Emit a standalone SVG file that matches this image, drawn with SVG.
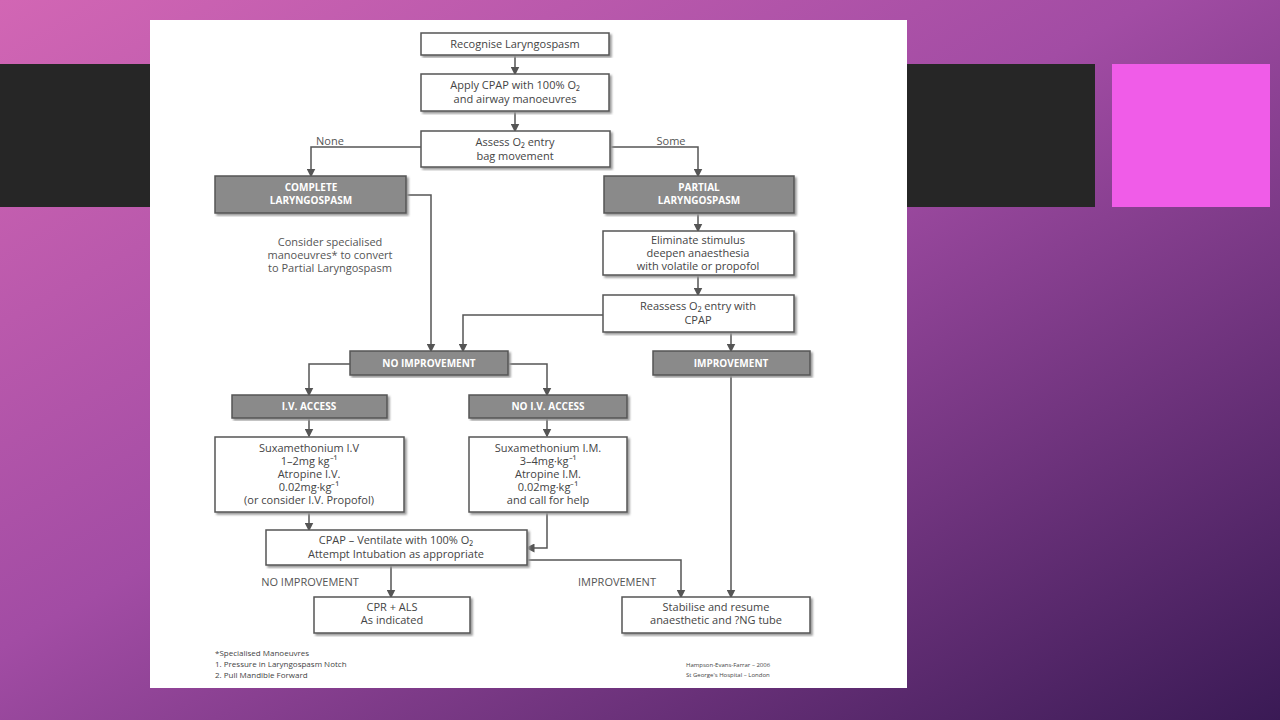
<svg xmlns="http://www.w3.org/2000/svg" width="1280" height="720" viewBox="0 0 1280 720">
<defs>
<linearGradient id="bg" x1="0" y1="0" x2="1" y2="1">
<stop offset="0" stop-color="#d266b4"/><stop offset="0.45" stop-color="#a24ca4"/><stop offset="1" stop-color="#3a1a55"/>
</linearGradient>
<marker id="a" markerWidth="6" markerHeight="6" refX="5" refY="3" orient="auto"><path d="M0,0L6,3L0,6z" fill="#555"/></marker>
<filter id="sh"><feDropShadow dx="2" dy="2" stdDeviation="1" flood-color="#999"/></filter>
</defs>
<style>
text{font-family:"Open Sans","Liberation Sans",sans-serif;font-size:11px;fill:#444;text-anchor:middle}
.b rect{fill:#fff;stroke:#555;stroke-width:1.5;filter:url(#sh)}
.g rect{fill:#8a8a8a;stroke:#555;stroke-width:1.5;filter:url(#sh)}
.g text{fill:#fff;font-weight:bold;font-size:10px}
.l{font-size:11px;fill:#555}
.s{font-size:8px;text-anchor:start}
#c path{fill:none;stroke:#555;stroke-width:1.5;marker-end:url(#a)}
</style>
<rect width="1280" height="720" fill="url(#bg)"/>
<rect x="0" y="64" width="1095" height="143" fill="#262626"/>
<rect x="1112" y="64" width="158" height="143" fill="#f05ce8"/>
<rect x="150" y="20" width="757" height="668" fill="#fff"/>
<g id="c">
<path d="M515,55V74"/>
<path d="M515,111V131"/>
<path d="M421,147H311V176"/>
<path d="M610,147H698V176"/>
<path d="M698,213V231"/>
<path d="M698,275V295"/>
<path d="M603,315H463V351"/>
<path d="M406,195H431V351"/>
<path d="M731,332V351"/>
<path d="M350,364H309V395"/>
<path d="M508,364H547V395"/>
<path d="M309,418V436"/>
<path d="M547,418V436"/>
<path d="M309,512V530"/>
<path d="M547,512V548H527"/>
<path d="M527,560H681V597"/>
<path d="M731,375V597"/>
<path d="M391,565V597"/>
</g>
<g id="n1" class="b"><rect x="421" y="33" width="188" height="22"/><text x="515" y="48">Recognise Laryngospasm</text></g>
<g id="n2" class="b"><rect x="421" y="74" width="188" height="37"/><text x="515" y="89">Apply CPAP with 100% O₂</text><text x="515" y="103">and airway manoeuvres</text></g>
<g id="n3" class="b"><rect x="421" y="131" width="189" height="36"/><text x="515" y="146">Assess O₂ entry</text><text x="515" y="160">bag movement</text></g>
<text class="l" x="330" y="145">None</text><text class="l" x="671" y="145">Some</text>
<g id="n4" class="g"><rect x="215" y="176" width="191" height="37"/><text x="311" y="191">COMPLETE</text><text x="311" y="204">LARYNGOSPASM</text></g>
<g id="n5" class="g"><rect x="604" y="176" width="190" height="37"/><text x="699" y="191">PARTIAL</text><text x="699" y="204">LARYNGOSPASM</text></g>
<text class="l" x="330" y="246">Consider specialised</text><text class="l" x="330" y="259">manoeuvres* to convert</text><text class="l" x="330" y="272">to Partial Laryngospasm</text>
<g id="n6" class="b"><rect x="603" y="231" width="191" height="44"/><text x="698" y="244">Eliminate stimulus</text><text x="698" y="257">deepen anaesthesia</text><text x="698" y="270">with volatile or propofol</text></g>
<g id="n7" class="b"><rect x="603" y="295" width="191" height="37"/><text x="698" y="310">Reassess O₂ entry with</text><text x="698" y="324">CPAP</text></g>
<g id="n8" class="g"><rect x="350" y="351" width="158" height="24"/><text x="429" y="367">NO IMPROVEMENT</text></g>
<g id="n9" class="g"><rect x="653" y="351" width="157" height="24"/><text x="731" y="367">IMPROVEMENT</text></g>
<g id="n10" class="g"><rect x="232" y="395" width="155" height="23"/><text x="309" y="410">I.V. ACCESS</text></g>
<g id="n11" class="g"><rect x="469" y="395" width="158" height="23"/><text x="548" y="410">NO I.V. ACCESS</text></g>
<g id="n12" class="b"><rect x="215" y="437" width="189" height="75"/><text x="309" y="452">Suxamethonium I.V</text><text x="309" y="465">1–2mg kg⁻¹</text><text x="309" y="478">Atropine I.V.</text><text x="309" y="491">0.02mg·kg⁻¹</text><text x="309" y="504">(or consider I.V. Propofol)</text></g>
<g id="n13" class="b"><rect x="469" y="437" width="158" height="75"/><text x="548" y="452">Suxamethonium I.M.</text><text x="548" y="465">3–4mg·kg⁻¹</text><text x="548" y="478">Atropine I.M.</text><text x="548" y="491">0.02mg·kg⁻¹</text><text x="548" y="504">and call for help</text></g>
<g id="n14" class="b"><rect x="266" y="530" width="261" height="35"/><text x="396" y="544">CPAP – Ventilate with 100% O₂</text><text x="396" y="558">Attempt Intubation as appropriate</text></g>
<text class="l" x="310" y="586">NO IMPROVEMENT</text><text class="l" x="617" y="586">IMPROVEMENT</text>
<g id="n15" class="b"><rect x="314" y="597" width="156" height="36"/><text x="392" y="611">CPR + ALS</text><text x="392" y="624">As indicated</text></g>
<g id="n16" class="b"><rect x="622" y="597" width="188" height="36"/><text x="716" y="611">Stabilise and resume</text><text x="716" y="624">anaesthetic and ?NG tube</text></g>
<text class="s" x="215" y="656">*Specialised Manoeuvres</text><text class="s" x="215" y="667">1. Pressure in Laryngospasm Notch</text><text class="s" x="215" y="678">2. Pull Mandible Forward</text>
<text class="s" x="686" y="667" style="font-size:6px">Hampson-Evans-Farrar – 2006</text><text class="s" x="686" y="677" style="font-size:6px">St George's Hospital – London</text>
</svg>
